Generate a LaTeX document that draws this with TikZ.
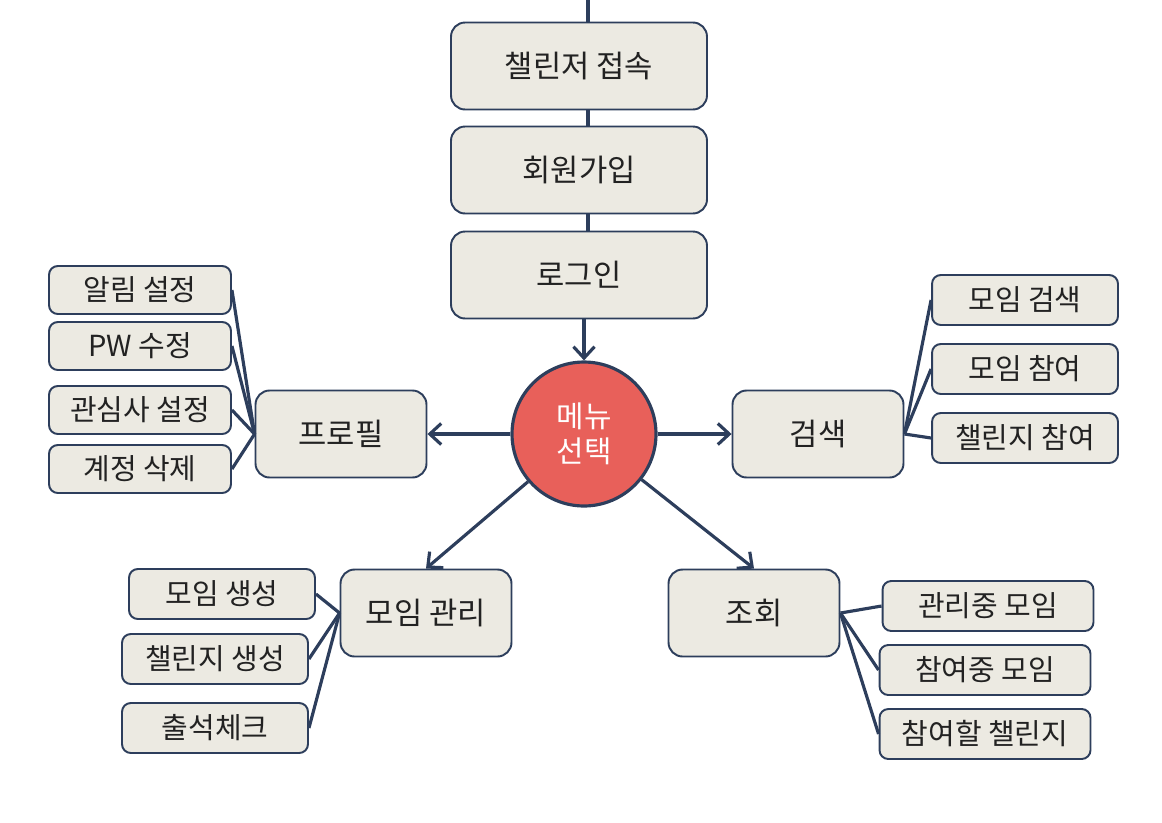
\documentclass[tikz,border=0pt]{standalone}
\usepackage{fontspec}
\setmainfont{Noto Sans CJK KR}
\usetikzlibrary{arrows.meta}
\definecolor{navy}{HTML}{2D3E5C}
\definecolor{boxfill}{HTML}{ECEAE2}
\definecolor{menured}{HTML}{E8605A}
\definecolor{ink}{HTML}{222222}

\begin{document}
\begin{tikzpicture}[x=0.02cm,y=-0.02cm,
  bigbox/.style={draw=navy,line width=1.1pt,fill=boxfill,rounded corners=8pt,minimum width=5.12cm,minimum height=1.74cm,text=ink,font=\fontsize{17.5}{20}\selectfont},
  midbox/.style={bigbox,minimum width=3.42cm},
  subbox/.style={draw=navy,line width=1.1pt,fill=boxfill,rounded corners=5pt,minimum width=3.64cm,minimum height=0.96cm,text=ink,font=\fontsize{16.5}{19}\selectfont},
  link/.style={draw=navy,line width=1.8pt},
  arr/.style={link,-{Straight Barb[length=6.5pt,width=12pt,line width=1.8pt]}}]
\useasboundingbox (0,0) rectangle (1162,822);
\coordinate (top) at (588,0);
\node[bigbox] (conn) at (579,66) {챌린저 접속};
\node[bigbox] (join) at (579,170) {회원가입};
\node[bigbox] (login) at (579,275) {로그인};
\node[circle,draw=navy,line width=1.8pt,fill=menured,minimum size=2.88cm,text=white,align=center,font=\fontsize{17}{20}\selectfont] (menu) at (584,434) {메뉴\\선택};
\node[midbox] (prof) at (341,434) {프로필};
\node[midbox] (find) at (818,434) {검색};
\node[midbox] (mgmt) at (426,613) {모임 관리};
\node[midbox] (view) at (754,613) {조회};
\draw[link] (top) -- (conn.north -| top);
\draw[link] (conn.south -| top) -- (join.north -| top);
\draw[link] (join.south -| top) -- (login.north -| top);
\draw[arr] (login.south -| menu) -- (menu.north);
\draw[arr] (menu) -- (prof);
\draw[arr] (menu) -- (find);
\draw[arr] (menu) -- (mgmt.north);
\draw[arr] (menu) -- (view.north);
% profile
\node[subbox] (alarm) at (140,290) {알림 설정};
\node[subbox] (pw) at (140,346) {PW 수정};
\node[subbox] (interest) at (140,410) {관심사 설정};
\node[subbox] (delete) at (140,469) {계정 삭제};
\foreach \n in {alarm,pw,interest,delete} \draw[link] (\n.east) -- (prof.west);
% search
\node[subbox,minimum width=3.72cm,minimum height=1cm] (gsearch) at (1025,300) {모임 검색};
\node[subbox,minimum width=3.72cm,minimum height=1cm] (gjoin) at (1025,369) {모임 참여};
\node[subbox,minimum width=3.72cm,minimum height=1cm] (cjoin) at (1025,438) {챌린지 참여};
\foreach \n in {gsearch,gjoin,cjoin} \draw[link] (find.east) -- (\n.west);
% group management
\node[subbox,minimum width=3.72cm,minimum height=1cm] (gmake) at (222,594) {모임 생성};
\node[subbox,minimum width=3.72cm,minimum height=1cm] (cmake) at (215,659) {챌린지 생성};
\node[subbox,minimum width=3.72cm,minimum height=1cm] (check) at (215,728) {출석체크};
\foreach \n in {gmake,cmake,check} \draw[link] (\n.east) -- (mgmt.west);
% view
\node[subbox,minimum width=4.22cm,minimum height=1cm] (gown) at (988,606) {관리중 모임};
\node[subbox,minimum width=4.22cm,minimum height=1cm] (gin) at (985,670) {참여중 모임};
\node[subbox,minimum width=4.22cm,minimum height=1cm] (cwill) at (985,734) {참여할 챌린지};
\foreach \n in {gown,gin,cwill} \draw[link] (view.east) -- (\n.west);
\end{tikzpicture}
\end{document}
